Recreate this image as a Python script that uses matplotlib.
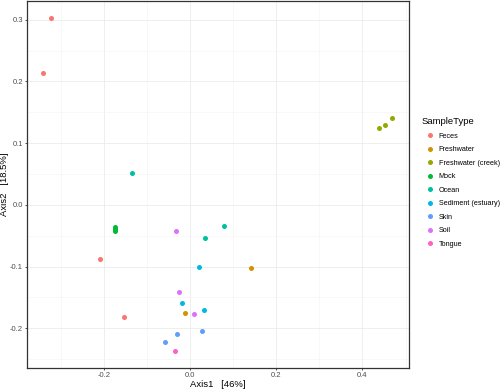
import matplotlib
matplotlib.use("Agg")
import matplotlib.pyplot as plt
from matplotlib.lines import Line2D
from matplotlib.ticker import MultipleLocator, FormatStrFormatter

plt.rcParams["font.family"] = ["Liberation Sans", "DejaVu Sans"]

# ordination scores
sample_types = ["Feces", "Freshwater", "Freshwater (creek)", "Mock", "Ocean",
                "Sediment (estuary)", "Skin", "Soil", "Tongue"]
colors = ["#F8766D", "#D39200", "#93AA00", "#00BA38", "#00C19F",
          "#00B9E3", "#619CFF", "#DB72FB", "#FF61C3"]

axis1 = {
    "Feces": [-0.322, -0.341, -0.209, -0.152],
    "Freshwater": [-0.011, 0.142],
    "Freshwater (creek)": [0.439, 0.453, 0.468],
    "Mock": [-0.174, -0.174, -0.174],
    "Ocean": [0.078, 0.036, -0.134],
    "Sediment (estuary)": [0.022, -0.019, 0.032],
    "Skin": [-0.029, -0.058, 0.029],
    "Soil": [-0.033, -0.026, 0.009],
    "Tongue": [-0.035],
}
axis2 = {
    "Feces": [0.303, 0.214, -0.087, -0.182],
    "Freshwater": [-0.175, -0.102],
    "Freshwater (creek)": [0.124, 0.129, 0.140],
    "Mock": [-0.036, -0.042, -0.039],
    "Ocean": [-0.035, -0.054, 0.052],
    "Sediment (estuary)": [-0.100, -0.159, -0.170],
    "Skin": [-0.210, -0.223, -0.204],
    "Soil": [-0.043, -0.141, -0.177],
    "Tongue": [-0.237],
}

fig = plt.figure(figsize=(5, 3.9), dpi=100)
ax = fig.add_axes([0.054, 0.057, 0.764, 0.940])

for st, c in zip(sample_types, colors):
    ax.scatter(axis1[st], axis2[st], s=13, color=c, linewidths=0, zorder=3)

ax.set_xlim(-0.378, 0.508)
ax.set_ylim(-0.264, 0.330)
ax.xaxis.set_major_locator(MultipleLocator(0.2))
ax.xaxis.set_minor_locator(MultipleLocator(0.1))
ax.yaxis.set_major_locator(MultipleLocator(0.1))
ax.yaxis.set_minor_locator(MultipleLocator(0.05))
ax.xaxis.set_major_formatter(FormatStrFormatter("%.1f"))
ax.yaxis.set_major_formatter(FormatStrFormatter("%.1f"))
ax.grid(which="major", color="#EBEBEB", linewidth=0.6, zorder=0)
ax.grid(which="minor", color="#F3F3F3", linewidth=0.4, zorder=0)
ax.set_axisbelow(True)
ax.tick_params(which="major", length=1.6, width=0.6, color="#333333",
               labelsize=5.5, labelcolor="#4D4D4D", pad=1.2)
ax.tick_params(which="minor", length=0)
for sp in ax.spines.values():
    sp.set_color("#333333")
    sp.set_linewidth(0.9)

ax.set_xlabel("Axis1   [46%]", fontsize=6.8, labelpad=1)
ax.set_ylabel("Axis2   [18.5%]", fontsize=6.8, labelpad=1)

handles = [Line2D([], [], marker="o", linestyle="", markersize=3.6,
                  markerfacecolor=c, markeredgewidth=0) for c in colors]
leg = fig.legend(handles, sample_types, title="SampleType", loc="upper left",
                 bbox_to_anchor=(0.844, 0.70), frameon=False, fontsize=5.2,
                 title_fontsize=6.8, handlelength=2.1, handletextpad=0.2,
                 labelspacing=0.9, borderpad=0, borderaxespad=0)
leg._legend_box.align = "left"

fig.savefig("out.png", dpi=100)
